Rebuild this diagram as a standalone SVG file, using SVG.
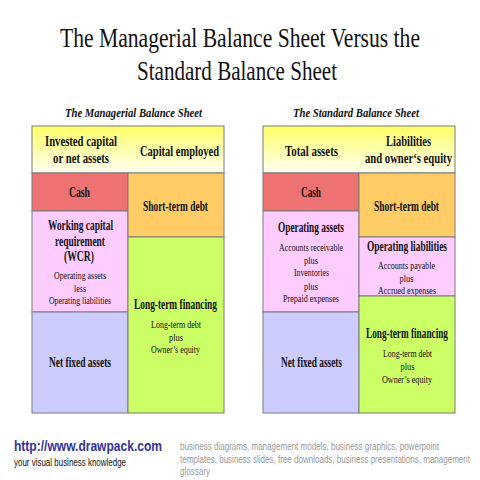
<svg xmlns="http://www.w3.org/2000/svg" width="480" height="480" viewBox="0 0 480 480">
<defs>
<linearGradient id="hdr" x1="0" y1="0" x2="0" y2="1">
<stop offset="0" stop-color="#FFFF66"/>
<stop offset="1" stop-color="#FFFFF2"/>
</linearGradient>
</defs>
<style>
text{font-family:"Liberation Serif","Times New Roman",serif;text-anchor:middle;fill:#111}
.t{font-size:28px}
.h{font-size:13px;font-weight:bold;font-style:italic}
.b{font-size:14px;font-weight:bold}
.r{font-size:11px}
.box{stroke:#7a7a7a;stroke-width:1}
.hd{fill:url(#hdr)}
.cash{fill:#EF7272}
.pink{fill:#FFCCFF}
.lav{fill:#CCCCFF}
.org{fill:#FFCC66}
.lime{fill:#CCFF66}
.f{font-family:"Liberation Sans",Arial,sans-serif;text-anchor:start}
</style>
<rect width="480" height="480" fill="#fff"/>
<g id="title">
<text class="t" x="240" y="47" textLength="360" lengthAdjust="spacingAndGlyphs">The Managerial Balance Sheet Versus the</text>
<text class="t" x="237" y="80" textLength="200" lengthAdjust="spacingAndGlyphs">Standard Balance Sheet</text>
</g>
<g id="managerial">
<text class="h" x="133.5" y="117" textLength="137" lengthAdjust="spacingAndGlyphs">The Managerial Balance Sheet</text>
<g id="m-header">
<rect class="box hd" x="32" y="126" width="192" height="47"/>
<text class="b" x="81" y="146" textLength="72" lengthAdjust="spacingAndGlyphs">Invested capital</text>
<text class="b" x="81" y="163" textLength="56" lengthAdjust="spacingAndGlyphs">or net assets</text>
<text class="b" x="179.5" y="156" textLength="79" lengthAdjust="spacingAndGlyphs">Capital employed</text>
</g>
<g id="m-cash">
<rect class="box cash" x="32" y="173" width="96" height="38"/>
<text class="b" x="79.5" y="197" textLength="21" lengthAdjust="spacingAndGlyphs">Cash</text>
</g>
<g id="m-wcr">
<rect class="box pink" x="32" y="211" width="96" height="101"/>
<text class="b" x="80.5" y="230" textLength="65" lengthAdjust="spacingAndGlyphs">Working capital</text>
<text class="b" x="80" y="246" textLength="50" lengthAdjust="spacingAndGlyphs">requirement</text>
<text class="b" x="79" y="261" textLength="30" lengthAdjust="spacingAndGlyphs">(WCR)</text>
<text class="r" x="80" y="278.5" textLength="52" lengthAdjust="spacingAndGlyphs">Operating assets</text>
<text class="r" x="80" y="291.5" textLength="12" lengthAdjust="spacingAndGlyphs">less</text>
<text class="r" x="80" y="303.5" textLength="62" lengthAdjust="spacingAndGlyphs">Operating liabilities</text>
</g>
<g id="m-fixed">
<rect class="box lav" x="32" y="312" width="96" height="101"/>
<text class="b" x="80" y="367" textLength="62" lengthAdjust="spacingAndGlyphs">Net fixed assets</text>
</g>
<g id="m-std">
<rect class="box org" x="128" y="173" width="96" height="64"/>
<text class="b" x="175.5" y="211" textLength="65" lengthAdjust="spacingAndGlyphs">Short-term debt</text>
</g>
<g id="m-ltf">
<rect class="box lime" x="128" y="237" width="96" height="176"/>
<text class="b" x="175.5" y="309" textLength="83" lengthAdjust="spacingAndGlyphs">Long-term financing</text>
<text class="r" x="176" y="327.5" textLength="50" lengthAdjust="spacingAndGlyphs">Long-term debt</text>
<text class="r" x="176" y="340.5" textLength="14" lengthAdjust="spacingAndGlyphs">plus</text>
<text class="r" x="175.5" y="352.5" textLength="49" lengthAdjust="spacingAndGlyphs">Owner’s equity</text>
</g>
</g>
<g id="standard">
<text class="h" x="356" y="117" textLength="126" lengthAdjust="spacingAndGlyphs">The Standard Balance Sheet</text>
<g id="s-header">
<rect class="box hd" x="263" y="126" width="192" height="47"/>
<text class="b" x="311.5" y="156" textLength="53" lengthAdjust="spacingAndGlyphs">Total assets</text>
<text class="b" x="408.5" y="146" textLength="45" lengthAdjust="spacingAndGlyphs">Liabilities</text>
<text class="b" x="408.5" y="163" textLength="87" lengthAdjust="spacingAndGlyphs">and owner‘s equity</text>
</g>
<g id="s-cash">
<rect class="box cash" x="263" y="173" width="96" height="38"/>
<text class="b" x="311" y="197" textLength="20" lengthAdjust="spacingAndGlyphs">Cash</text>
</g>
<g id="s-opassets">
<rect class="box pink" x="263" y="211" width="96" height="101"/>
<text class="b" x="311" y="232" textLength="66" lengthAdjust="spacingAndGlyphs">Operating assets</text>
<text class="r" x="311" y="250.5" textLength="64" lengthAdjust="spacingAndGlyphs">Accounts receivable</text>
<text class="r" x="311" y="263.5" textLength="14" lengthAdjust="spacingAndGlyphs">plus</text>
<text class="r" x="311.5" y="276" textLength="35" lengthAdjust="spacingAndGlyphs">Inventories</text>
<text class="r" x="311" y="289.5" textLength="14" lengthAdjust="spacingAndGlyphs">plus</text>
<text class="r" x="311" y="302" textLength="56" lengthAdjust="spacingAndGlyphs">Prepaid expenses</text>
</g>
<g id="s-fixed">
<rect class="box lav" x="263" y="312" width="96" height="101"/>
<text class="b" x="311.5" y="367" textLength="61" lengthAdjust="spacingAndGlyphs">Net fixed assets</text>
</g>
<g id="s-std">
<rect class="box org" x="359" y="173" width="96" height="64"/>
<text class="b" x="406.5" y="211" textLength="65" lengthAdjust="spacingAndGlyphs">Short-term debt</text>
</g>
<g id="s-opliab">
<rect class="box pink" x="359" y="237" width="96" height="59"/>
<text class="b" x="407" y="251" textLength="80" lengthAdjust="spacingAndGlyphs">Operating liabilities</text>
<text class="r" x="406.5" y="268.5" textLength="57" lengthAdjust="spacingAndGlyphs">Accounts payable</text>
<text class="r" x="406.5" y="282" textLength="14" lengthAdjust="spacingAndGlyphs">plus</text>
<text class="r" x="407" y="294" textLength="58" lengthAdjust="spacingAndGlyphs">Accrued expenses</text>
</g>
<g id="s-ltf">
<rect class="box lime" x="359" y="296" width="96" height="117"/>
<text class="b" x="407" y="338" textLength="82" lengthAdjust="spacingAndGlyphs">Long-term financing</text>
<text class="r" x="407.5" y="356.5" textLength="49" lengthAdjust="spacingAndGlyphs">Long-term debt</text>
<text class="r" x="407.5" y="369.5" textLength="14" lengthAdjust="spacingAndGlyphs">plus</text>
<text class="r" x="407" y="382.5" textLength="50" lengthAdjust="spacingAndGlyphs">Owner’s equity</text>
</g>
</g>
<g id="connectors"></g>
<g id="footer">
<text class="f" x="14" y="451" font-size="14" font-weight="bold" fill="#33339A" style="fill:#33339A" textLength="148" lengthAdjust="spacingAndGlyphs">http://www.drawpack.com</text>
<text class="f" x="14" y="466" font-size="10" textLength="112" lengthAdjust="spacingAndGlyphs">your visual business knowledge</text>
<text class="f" x="180" y="450" font-size="10" style="fill:#999" textLength="259" lengthAdjust="spacingAndGlyphs">business diagrams, management models, business graphics, powerpoint</text>
<text class="f" x="180" y="462.5" font-size="10" style="fill:#999" textLength="290" lengthAdjust="spacingAndGlyphs">templates, business slides, free downloads, business presentations, management</text>
<text class="f" x="180" y="475" font-size="10" style="fill:#999" textLength="30" lengthAdjust="spacingAndGlyphs">glossary</text>
</g>
</svg>
